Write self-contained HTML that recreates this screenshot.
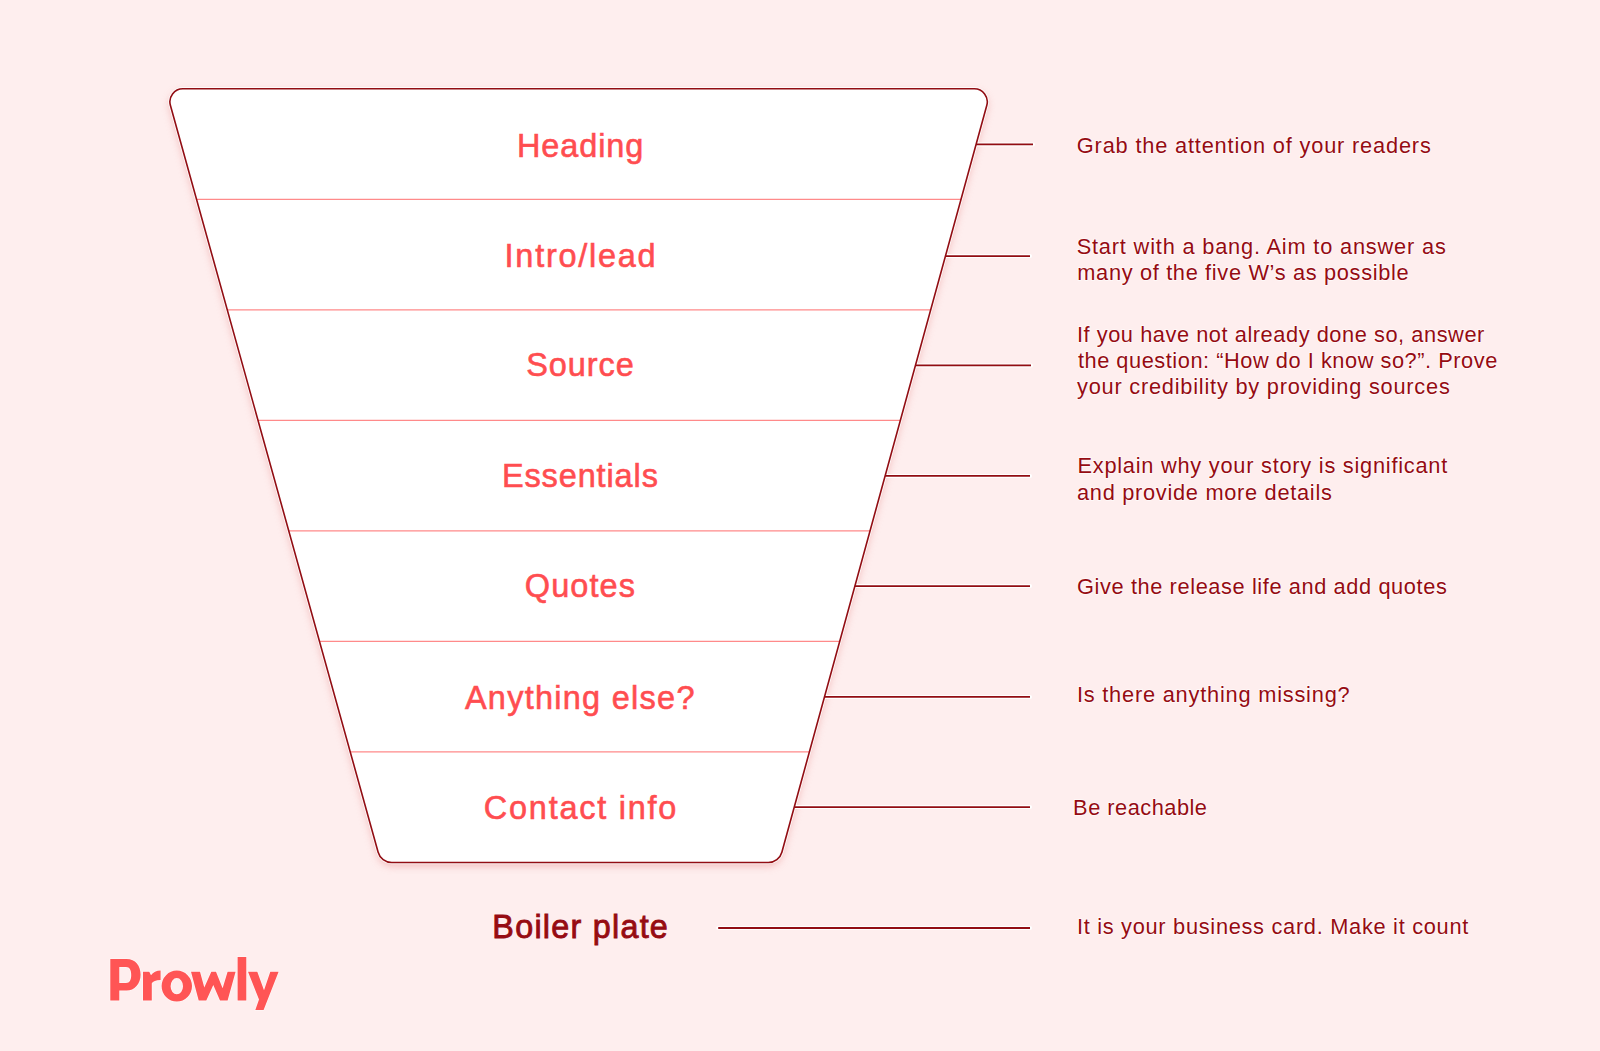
<!DOCTYPE html>
<html><head><meta charset="utf-8"><style>
html,body{margin:0;padding:0;background:#feeeee;}
body{width:1600px;height:1051px;overflow:hidden;}
svg{display:block;}
text{font-family:"Liberation Sans",sans-serif;}
.lab{font-size:33.5px;fill:#ff4d50;stroke:#ff4d50;stroke-width:0.6px;}
.desc{font-size:22.7px;fill:#960b12;stroke:#fff;stroke-opacity:0.75;stroke-width:1.6px;paint-order:stroke;}
.boil{font-size:34.0px;fill:#960b12;stroke:#960b12;stroke-width:0.9px;}
</style></head><body>
<svg width="1600" height="1051" viewBox="0 0 1600 1051">
<defs><filter id="sh" x="-10%" y="-10%" width="120%" height="120%"><feGaussianBlur stdDeviation="4"/></filter></defs>
<path d="M182.90,88.80 L974.29,88.80 A13.0,13.0 0 0 1 986.83,105.24 L781.87,852.20 A14.0,14.0 0 0 1 768.37,862.50 L391.63,862.50 A14.0,14.0 0 0 1 378.14,852.25 L170.37,105.28 A13.0,13.0 0 0 1 182.90,88.80 Z" fill="#e89090" opacity="0.6" transform="translate(0,3)" filter="url(#sh)"/>
<path d="M182.90,88.80 L974.29,88.80 A13.0,13.0 0 0 1 986.83,105.24 L781.87,852.20 A14.0,14.0 0 0 1 768.37,862.50 L391.63,862.50 A14.0,14.0 0 0 1 378.14,852.25 L170.37,105.28 A13.0,13.0 0 0 1 182.90,88.80 Z" fill="#fff" stroke="#fff" stroke-opacity="0.85" stroke-width="3.4000000000000004"/>
<line x1="196.53" y1="199.33" x2="961.01" y2="199.33" stroke="#ff8a8a" stroke-width="1.3"/>
<line x1="227.27" y1="309.86" x2="930.68" y2="309.86" stroke="#ff8a8a" stroke-width="1.3"/>
<line x1="258.02" y1="420.39" x2="900.35" y2="420.39" stroke="#ff8a8a" stroke-width="1.3"/>
<line x1="288.76" y1="530.91" x2="870.03" y2="530.91" stroke="#ff8a8a" stroke-width="1.3"/>
<line x1="319.50" y1="641.44" x2="839.70" y2="641.44" stroke="#ff8a8a" stroke-width="1.3"/>
<line x1="350.25" y1="751.97" x2="809.37" y2="751.97" stroke="#ff8a8a" stroke-width="1.3"/>
<line x1="976.08" y1="144.40" x2="1033" y2="144.40" stroke="#fff" stroke-width="4.0" stroke-linecap="round"/>
<line x1="945.43" y1="256.10" x2="1030" y2="256.10" stroke="#fff" stroke-width="4.0" stroke-linecap="round"/>
<line x1="915.44" y1="365.40" x2="1031" y2="365.40" stroke="#fff" stroke-width="4.0" stroke-linecap="round"/>
<line x1="885.12" y1="475.90" x2="1030" y2="475.90" stroke="#fff" stroke-width="4.0" stroke-linecap="round"/>
<line x1="854.88" y1="586.10" x2="1030" y2="586.10" stroke="#fff" stroke-width="4.0" stroke-linecap="round"/>
<line x1="824.48" y1="696.90" x2="1030" y2="696.90" stroke="#fff" stroke-width="4.0" stroke-linecap="round"/>
<line x1="794.24" y1="807.10" x2="1030" y2="807.10" stroke="#fff" stroke-width="4.0" stroke-linecap="round"/>
<line x1="718.20" y1="928.00" x2="1030" y2="928.00" stroke="#fff" stroke-width="4.0" stroke-linecap="round"/>
<path d="M182.90,88.80 L974.29,88.80 A13.0,13.0 0 0 1 986.83,105.24 L781.87,852.20 A14.0,14.0 0 0 1 768.37,862.50 L391.63,862.50 A14.0,14.0 0 0 1 378.14,852.25 L170.37,105.28 A13.0,13.0 0 0 1 182.90,88.80 Z" fill="none" stroke="#920d13" stroke-width="1.6"/>
<line x1="976.08" y1="144.40" x2="1033" y2="144.40" stroke="#920d13" stroke-width="1.8"/>
<line x1="945.43" y1="256.10" x2="1030" y2="256.10" stroke="#920d13" stroke-width="1.8"/>
<line x1="915.44" y1="365.40" x2="1031" y2="365.40" stroke="#920d13" stroke-width="1.8"/>
<line x1="885.12" y1="475.90" x2="1030" y2="475.90" stroke="#920d13" stroke-width="1.8"/>
<line x1="854.88" y1="586.10" x2="1030" y2="586.10" stroke="#920d13" stroke-width="1.8"/>
<line x1="824.48" y1="696.90" x2="1030" y2="696.90" stroke="#920d13" stroke-width="1.8"/>
<line x1="794.24" y1="807.10" x2="1030" y2="807.10" stroke="#920d13" stroke-width="1.8"/>
<line x1="718.20" y1="928.00" x2="1030" y2="928.00" stroke="#920d13" stroke-width="1.8"/>
<text transform="translate(516.99,156.50) scale(0.97,1)" x="0" y="0" textLength="130.33" lengthAdjust="spacing" class="lab">Heading</text>
<text transform="translate(504.61,266.90) scale(0.97,1)" x="0" y="0" textLength="155.67" lengthAdjust="spacing" class="lab">Intro/lead</text>
<text transform="translate(526.13,376.00) scale(0.97,1)" x="0" y="0" textLength="111.05" lengthAdjust="spacing" class="lab">Source</text>
<text transform="translate(501.92,486.80) scale(0.97,1)" x="0" y="0" textLength="160.79" lengthAdjust="spacing" class="lab">Essentials</text>
<text transform="translate(524.87,597.00) scale(0.97,1)" x="0" y="0" textLength="113.42" lengthAdjust="spacing" class="lab">Quotes</text>
<text transform="translate(464.91,708.50) scale(0.97,1)" x="0" y="0" textLength="236.65" lengthAdjust="spacing" class="lab">Anything else?</text>
<text transform="translate(483.86,819.20) scale(0.97,1)" x="0" y="0" textLength="198.42" lengthAdjust="spacing" class="lab">Contact info</text>
<text transform="translate(1076.82,152.50) scale(0.96,1)" x="0" y="0" textLength="368.75" lengthAdjust="spacing" class="desc">Grab the attention of your readers</text>
<text transform="translate(1076.64,253.50) scale(0.96,1)" x="0" y="0" textLength="384.56" lengthAdjust="spacing" class="desc">Start with a bang. Aim to answer as</text>
<text transform="translate(1077.31,279.70) scale(0.96,1)" x="0" y="0" textLength="345.11" lengthAdjust="spacing" class="desc">many of the five W’s as possible</text>
<text transform="translate(1076.91,341.70) scale(0.96,1)" x="0" y="0" textLength="424.39" lengthAdjust="spacing" class="desc">If you have not already done so, answer</text>
<text transform="translate(1077.89,367.60) scale(0.96,1)" x="0" y="0" textLength="436.87" lengthAdjust="spacing" class="desc">the question: “How do I know so?”. Prove</text>
<text transform="translate(1077.02,393.80) scale(0.96,1)" x="0" y="0" textLength="388.33" lengthAdjust="spacing" class="desc">your credibility by providing sources</text>
<text transform="translate(1077.46,473.00) scale(0.96,1)" x="0" y="0" textLength="385.24" lengthAdjust="spacing" class="desc">Explain why your story is significant</text>
<text transform="translate(1077.05,499.50) scale(0.96,1)" x="0" y="0" textLength="265.39" lengthAdjust="spacing" class="desc">and provide more details</text>
<text transform="translate(1077.04,593.50) scale(0.96,1)" x="0" y="0" textLength="385.18" lengthAdjust="spacing" class="desc">Give the release life and add quotes</text>
<text transform="translate(1076.91,701.90) scale(0.96,1)" x="0" y="0" textLength="284.14" lengthAdjust="spacing" class="desc">Is there anything missing?</text>
<text transform="translate(1073.10,814.90) scale(0.96,1)" x="0" y="0" textLength="139.46" lengthAdjust="spacing" class="desc">Be reachable</text>
<text transform="translate(1076.91,934.06) scale(0.96,1)" x="0" y="0" textLength="407.69" lengthAdjust="spacing" class="desc">It is your business card. Make it count</text>
<text transform="translate(492.34,937.75) scale(0.95,1)" x="0" y="0" textLength="184.74" lengthAdjust="spacing" class="boil">Boiler plate</text>
<path d="M110.3,959 L126.6,959 C135.5,959 140.6,965.5 140.6,974.8 C140.6,984 134.5,990.6 126.6,990.6 L119.3,990.6 L119.3,1000.6 L110.3,1000.6 Z M119.3,967 L126,967 C129.8,967 131.2,970.5 131.2,975 C131.2,979.5 129.8,983 126,983 L119.3,983 Z M143,971.7 L149.3,971.7 L151,975.2 C153,972.3 156.5,970.6 160.6,970.6 L160.6,980 C156,980 152.8,981.3 151.8,983.3 L151.8,1000.6 L143,1000.6 Z M161.6,986.1 A15.2,15.5 0 1 0 192,986.1 A15.2,15.5 0 1 0 161.6,986.1 Z M170.6,986.15 A6.2,8.15 0 1 1 183,986.15 A6.2,8.15 0 1 1 170.6,986.15 Z M191,971.65 L200,971.65 L204.3,987.6 L211.3,971.65 L216,971.65 L222.6,988.3 L227.6,971.65 L235.6,971.65 L227.6,1000.6 L220,1000.6 L213.3,985 L206.3,1000.6 L198.7,1000.6 Z M237.6,957 L246.3,957 L246.3,1000.6 L237.6,1000.6 Z M248,971.65 L257.3,971.65 L264,990.3 L270.3,971.65 L278.6,971.65 L263.6,1010 L255.3,1010 L259,999.6 Z" fill="#ff5555" fill-rule="evenodd" stroke="#fff" stroke-opacity="0.7" stroke-width="1.2" paint-order="stroke"/>
</svg>
</body></html>
